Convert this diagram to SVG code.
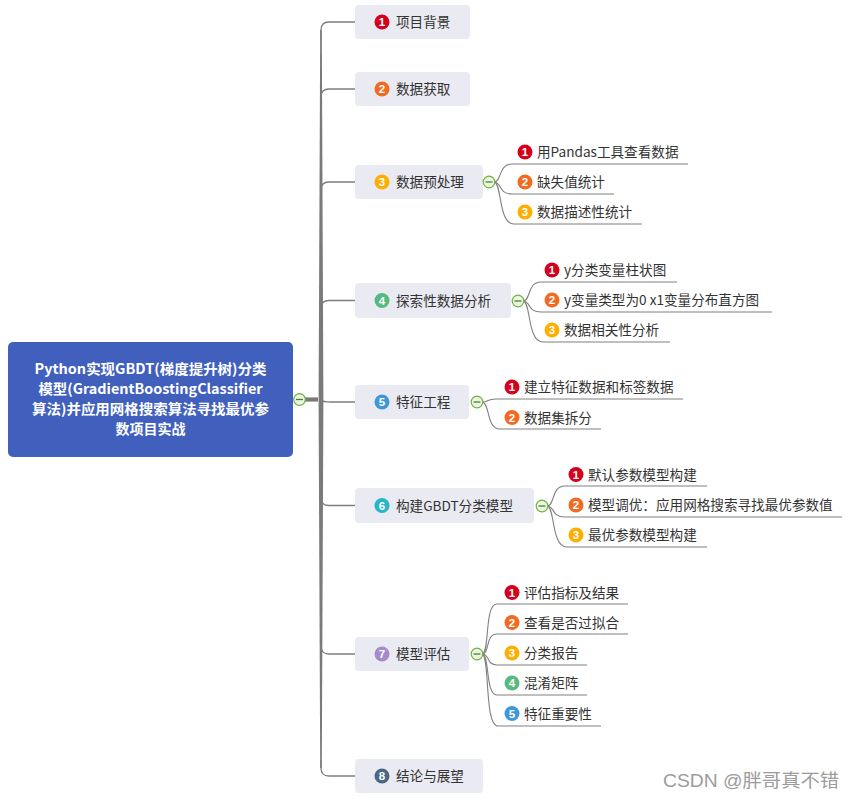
<svg xmlns="http://www.w3.org/2000/svg" width="849" height="800" viewBox="0 0 849 800">
<style>
  .node rect{fill:#E9EAF2}
  .lbl{font-family:"Noto Sans CJK SC","Noto Sans",sans-serif;font-size:13.6px;fill:#333}
  .root-t{font-family:"Noto Sans CJK SC","Noto Sans",sans-serif;font-size:14px;font-weight:bold;fill:#fff;text-anchor:middle}
  .bn{font-family:"Liberation Sans","Noto Sans",sans-serif;font-size:11.5px;font-weight:bold;fill:#fff;text-anchor:middle}
  .ln{fill:none;stroke:#7d7d7d;stroke-width:1.3}
  .sl{fill:none;stroke:#808080;stroke-width:1.1}
  .col circle{fill:#ECF6E2;stroke:#6CB33F;stroke-width:1.2}
  .col line{stroke:#4F7F30;stroke-width:1.3}
  .c1{fill:#D6001C}.c2{fill:#F26A21}.c3{fill:#FDAE00}.c4{fill:#56B980}
  .c5{fill:#3E97DB}.c6{fill:#28B5C8}.c7{fill:#A68BCB}.c8{fill:#4A6786}
  .wm{font-family:"Liberation Sans","Noto Sans CJK SC",sans-serif;font-size:18px;fill:#9c9c9c}
</style>

<g id="connectors">
  <!-- trunk tapered -->
  <polygon points="318.6,400 323.4,400 321.8,30 320.2,30" fill="#7a7a7a"/>
  <polygon points="318.6,400 323.4,400 321.8,768 320.2,768" fill="#7a7a7a"/>
  <path d="M304,399.5 H318" stroke="#7a7a7a" stroke-width="4.2" fill="none"/>
  <path class="ln" d="M321,40 V30 Q321,22 329,22 H355"/>
  <path class="ln" d="M321,100 V97 Q321,89 329,89 H355"/>
  <path class="ln" d="M321,190 Q321,182 329,182 H355"/>
  <path class="ln" d="M321,308 Q321,300.5 329,300.5 H355"/>
  <path class="ln" d="M321,400 Q323,402 331,402 H355"/>
  <path class="ln" d="M321,498 Q321,505.5 329,505.5 H355"/>
  <path class="ln" d="M321,646 Q321,654 329,654 H355"/>
  <path class="ln" d="M321,760 V768 Q321,776 329,776 H355"/>

  <!-- node3 subs -->
  <path class="sl" d="M494,182 C502,182 498,164 512,164 H688"/>
  <path class="sl" d="M494,182 C502,182 498,194 512,194 H614"/>
  <path class="sl" d="M494,182 C502,182 498,224 514,224 H642"/>
  <!-- node4 subs -->
  <path class="sl" d="M523,301 C531,301 527,282 541,282 H677"/>
  <path class="sl" d="M523,301 C531,301 527,312 541,312 H772"/>
  <path class="sl" d="M523,301 C531,301 527,342 543,342 H670"/>
  <!-- node5 subs -->
  <path class="sl" d="M482,402 C489,402 486,399 496,399 H683"/>
  <path class="sl" d="M482,402 C490,402 486,429 500,429 H601"/>
  <!-- node6 subs -->
  <path class="sl" d="M547,506 C555,506 551,486 565,486 H707"/>
  <path class="sl" d="M547,506 C555,506 551,517 565,517 H842"/>
  <path class="sl" d="M547,506 C555,506 551,547 567,547 H707"/>
  <!-- node7 subs -->
  <path class="sl" d="M482,654 C490,654 484,604 497,604 H628"/>
  <path class="sl" d="M482,654 C490,654 485,634 497,634 H628"/>
  <path class="sl" d="M482,654 C490,654 486,665 497,665 H587"/>
  <path class="sl" d="M482,654 C490,654 485,695 497,695 H587"/>
  <path class="sl" d="M482,654 C490,654 484,726 498,726 H601"/>
</g>

<g id="root">
  <rect x="8" y="342" width="285" height="115" rx="5" fill="#4160BD"/>
  <text class="root-t" x="150.5" y="374" textLength="232" lengthAdjust="spacingAndGlyphs">Python实现GBDT(梯度提升树)分类</text>
  <text class="root-t" x="150.5" y="394" textLength="224" lengthAdjust="spacingAndGlyphs">模型(GradientBoostingClassifier</text>
  <text class="root-t" x="150.5" y="414" textLength="237" lengthAdjust="spacingAndGlyphs">算法)并应用网格搜索算法寻找最优参</text>
  <text class="root-t" x="150.5" y="434">数项目实战</text>
  <g class="col"><circle cx="299.5" cy="399.5" r="5.8"/><line x1="296" y1="399.5" x2="303" y2="399.5"/></g>
</g>

<g id="n1" class="node">
  <rect x="355" y="5" width="115" height="34" rx="4"/>
  <circle class="c1" cx="382" cy="22" r="7.5"/><text class="bn" x="382" y="26">1</text>
  <text class="lbl" x="396" y="27">项目背景</text>
</g>
<g id="n2" class="node">
  <rect x="355" y="72" width="115" height="34" rx="4"/>
  <circle class="c2" cx="382" cy="89" r="7.5"/><text class="bn" x="382" y="93">2</text>
  <text class="lbl" x="396" y="94">数据获取</text>
</g>
<g id="n3" class="node">
  <rect x="355" y="165" width="128" height="34" rx="4"/>
  <circle class="c3" cx="382" cy="182" r="7.5"/><text class="bn" x="382" y="186">3</text>
  <text class="lbl" x="396" y="187">数据预处理</text>
  <g class="col"><circle cx="489" cy="182" r="5.8"/><line x1="485.5" y1="182" x2="492.5" y2="182"/></g>
</g>
<g id="n3s1"><circle class="c1" cx="525" cy="152" r="7.5"/><text class="bn" x="525" y="156">1</text><text class="lbl" x="537" y="157">用Pandas工具查看数据</text></g>
<g id="n3s2"><circle class="c2" cx="525" cy="182" r="7.5"/><text class="bn" x="525" y="186">2</text><text class="lbl" x="537" y="187">缺失值统计</text></g>
<g id="n3s3"><circle class="c3" cx="525" cy="212" r="7.5"/><text class="bn" x="525" y="216">3</text><text class="lbl" x="537" y="217">数据描述性统计</text></g>

<g id="n4" class="node">
  <rect x="355" y="283" width="156" height="35" rx="4"/>
  <circle class="c4" cx="382" cy="300.5" r="7.5"/><text class="bn" x="382" y="304.5">4</text>
  <text class="lbl" x="396" y="305.5">探索性数据分析</text>
  <g class="col"><circle cx="518" cy="301" r="5.8"/><line x1="514.5" y1="301" x2="521.5" y2="301"/></g>
</g>
<g id="n4s1"><circle class="c1" cx="552" cy="270" r="7.5"/><text class="bn" x="552" y="274">1</text><text class="lbl" x="564" y="275">y分类变量柱状图</text></g>
<g id="n4s2"><circle class="c2" cx="552" cy="300" r="7.5"/><text class="bn" x="552" y="304">2</text><text class="lbl" x="564" y="305">y变量类型为0 x1变量分布直方图</text></g>
<g id="n4s3"><circle class="c3" cx="552" cy="330" r="7.5"/><text class="bn" x="552" y="334">3</text><text class="lbl" x="564" y="335">数据相关性分析</text></g>

<g id="n5" class="node">
  <rect x="355" y="385" width="114" height="34" rx="4"/>
  <circle class="c5" cx="382" cy="402" r="7.5"/><text class="bn" x="382" y="406">5</text>
  <text class="lbl" x="396" y="407">特征工程</text>
  <g class="col"><circle cx="477" cy="402" r="5.8"/><line x1="473.5" y1="402" x2="480.5" y2="402"/></g>
</g>
<g id="n5s1"><circle class="c1" cx="512" cy="387" r="7.5"/><text class="bn" x="512" y="391">1</text><text class="lbl" x="524" y="392">建立特征数据和标签数据</text></g>
<g id="n5s2"><circle class="c2" cx="512" cy="417.5" r="7.5"/><text class="bn" x="512" y="421.5">2</text><text class="lbl" x="524" y="422.5">数据集拆分</text></g>

<g id="n6" class="node">
  <rect x="355" y="488" width="179" height="35" rx="4"/>
  <circle class="c6" cx="382" cy="505.5" r="7.5"/><text class="bn" x="382" y="509.5">6</text>
  <text class="lbl" x="396" y="510.5">构建GBDT分类模型</text>
  <g class="col"><circle cx="542" cy="506" r="5.8"/><line x1="538.5" y1="506" x2="545.5" y2="506"/></g>
</g>
<g id="n6s1"><circle class="c1" cx="576" cy="474.5" r="7.5"/><text class="bn" x="576" y="478.5">1</text><text class="lbl" x="588" y="479.5">默认参数模型构建</text></g>
<g id="n6s2"><circle class="c2" cx="576" cy="505" r="7.5"/><text class="bn" x="576" y="509">2</text><text class="lbl" x="588" y="510">模型调优：应用网格搜索寻找最优参数值</text></g>
<g id="n6s3"><circle class="c3" cx="576" cy="535" r="7.5"/><text class="bn" x="576" y="539">3</text><text class="lbl" x="588" y="540">最优参数模型构建</text></g>

<g id="n7" class="node">
  <rect x="355" y="637" width="114" height="34" rx="4"/>
  <circle class="c7" cx="382" cy="654" r="7.5"/><text class="bn" x="382" y="658">7</text>
  <text class="lbl" x="396" y="659">模型评估</text>
  <g class="col"><circle cx="477" cy="654" r="5.8"/><line x1="473.5" y1="654" x2="480.5" y2="654"/></g>
</g>
<g id="n7s1"><circle class="c1" cx="512" cy="592.5" r="7.5"/><text class="bn" x="512" y="596.5">1</text><text class="lbl" x="524" y="597.5">评估指标及结果</text></g>
<g id="n7s2"><circle class="c2" cx="512" cy="622.5" r="7.5"/><text class="bn" x="512" y="626.5">2</text><text class="lbl" x="524" y="627.5">查看是否过拟合</text></g>
<g id="n7s3"><circle class="c3" cx="512" cy="653" r="7.5"/><text class="bn" x="512" y="657">3</text><text class="lbl" x="524" y="658">分类报告</text></g>
<g id="n7s4"><circle class="c4" cx="512" cy="683" r="7.5"/><text class="bn" x="512" y="687">4</text><text class="lbl" x="524" y="688">混淆矩阵</text></g>
<g id="n7s5"><circle class="c5" cx="512" cy="713.5" r="7.5"/><text class="bn" x="512" y="717.5">5</text><text class="lbl" x="524" y="718.5">特征重要性</text></g>

<g id="n8" class="node">
  <rect x="355" y="759" width="128" height="34" rx="4"/>
  <circle class="c8" cx="382" cy="776" r="7.5"/><text class="bn" x="382" y="780">8</text>
  <text class="lbl" x="396" y="781">结论与展望</text>
</g>

<text class="wm" x="663" y="787" textLength="176" lengthAdjust="spacingAndGlyphs">CSDN @胖哥真不错</text>
</svg>
